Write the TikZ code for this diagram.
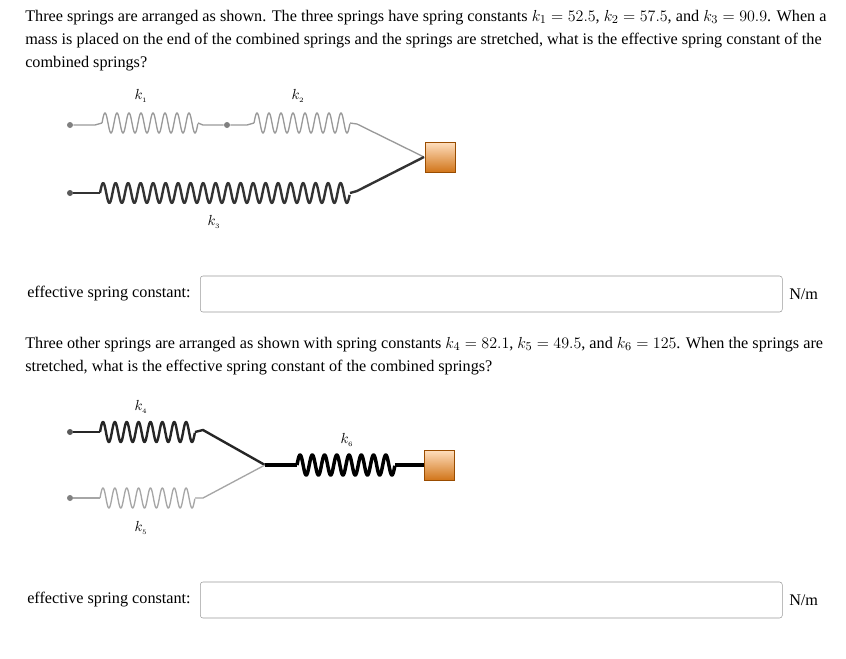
\documentclass[tikz,border=0pt]{standalone}
\usepackage{fontspec}
\setmainfont{Liberation Serif}
\begin{document}
\begin{tikzpicture}[x=0.75pt,y=-0.75pt,
  txt/.style={anchor=north west,align=left,inner sep=0pt,font=\fontsize{12.15}{17.2}\selectfont},
  lab/.style={font=\fontsize{11}{12}\selectfont,inner sep=0pt},
  dotc/.style={circle,fill=#1,inner sep=0pt,minimum size=4.5pt},
  ansbox/.style={draw=gray!80,rounded corners=2pt,minimum width=436.5pt,minimum height=27pt,anchor=west,inner sep=0pt},
  mass/.style={draw=orange!60!black,top color=orange!25!white,bottom color=orange!80!black!90,minimum width=22.5pt,minimum height=22.5pt,inner sep=0pt}]
\useasboundingbox (0,0) rectangle (846,658);
\newcommand\wave[7]{% x0 L yc A n color width
  \draw[#6,line width=#7,line join=round] plot[domain=0:1,samples=400,smooth] ({#1+#2*\x},{#3-#4*sin(360*#5*\x)});}
% paragraph 1
\node[txt] (p1) at (25,10) {Three springs are arranged as shown. The three springs have spring constants $k_1=52.5$, $k_2=57.5$, and $k_3=90.9$. When a\\ mass is placed on the end of the combined springs and the springs are stretched, what is the effective spring constant of the\\ combined springs?};
% diagram 1
\node[mass] (m1) at (440,157) {};
\node[dotc=gray] (a1) at (70,125) {};
\node[dotc=gray] (a2) at (227,125) {};
\node[dotc=gray!70!black] (a3) at (70,193) {};
\coordinate (h) at (424,157);
\draw[gray!80,line width=1pt] (a1) -- (95,125) -- (102,123);
\wave{102}{96}{123}{10}{8}{gray!80}{1pt}
\draw[gray!80,line width=1pt] (198,123) -- (203,125) -- (a2) -- (247,125) -- (254,123);
\wave{254}{96}{123}{10}{8}{gray!80}{1pt}
\draw[gray!80,line width=1pt] (350,123) -- (357,124) -- (h);
\draw[black!80,line width=1.8pt] (a3) -- (95,193) -- (100,193);
\wave{100}{250}{193}{10}{20}{black!80}{1.8pt}
\draw[black!80,line width=1.8pt] (350,193) -- (357,191) -- (h);
\node[lab] (k1) at (141,96) {$k_{\scriptscriptstyle 1}$};
\node[lab] (k2) at (298,96) {$k_{\scriptscriptstyle 2}$};
\node[lab] (k3) at (214,222) {$k_{\scriptscriptstyle 3}$};
% answer 1
\node[txt,anchor=west] (e1) at (27,294) {effective spring constant:};
\node[ansbox] (b1) at (200,294) {};
\node[txt,anchor=west] (u1) at (789,294) {N/m};
% paragraph 2
\node[txt] (p2) at (25,337) {Three other springs are arranged as shown with spring constants $k_4=82.1$, $k_5=49.5$, and $k_6=125$. When the springs are\\ stretched, what is the effective spring constant of the combined springs?};
% diagram 2
\node[mass] (m2) at (439,465) {};
\node[dotc=gray!70!black] (c1) at (70,432) {};
\node[dotc=gray] (c2) at (70,498) {};
\coordinate (j) at (265,465);
\draw[black!85,line width=1.8pt] (c1) -- (95,432) -- (100,432);
\wave{100}{95}{432}{10}{8}{black!85}{1.8pt}
\draw[black!85,line width=1.8pt] (195,432) -- (203,430) -- (j);
\draw[gray!70,line width=1pt] (c2) -- (95,498) -- (100,498);
\wave{100}{95}{498}{10}{8}{gray!70}{1pt}
\draw[gray!70,line width=1pt] (195,498) -- (203,498) -- (j);
\draw[black,line width=2.6pt] (j) -- (290,465) -- (297,465);
\wave{297}{98}{465}{10}{8}{black}{2.6pt}
\draw[black,line width=2.6pt] (395,465) -- (m2.west);
\node[lab] (k4) at (141,407) {$k_{\scriptscriptstyle 4}$};
\node[lab] (k5) at (141,528) {$k_{\scriptscriptstyle 5}$};
\node[lab] (k6) at (347,440) {$k_{\scriptscriptstyle 6}$};
% answer 2
\node[txt,anchor=west] (e2) at (27,600) {effective spring constant:};
\node[ansbox] (b2) at (200,600) {};
\node[txt,anchor=west] (u2) at (789,600) {N/m};
\end{tikzpicture}
\end{document}
